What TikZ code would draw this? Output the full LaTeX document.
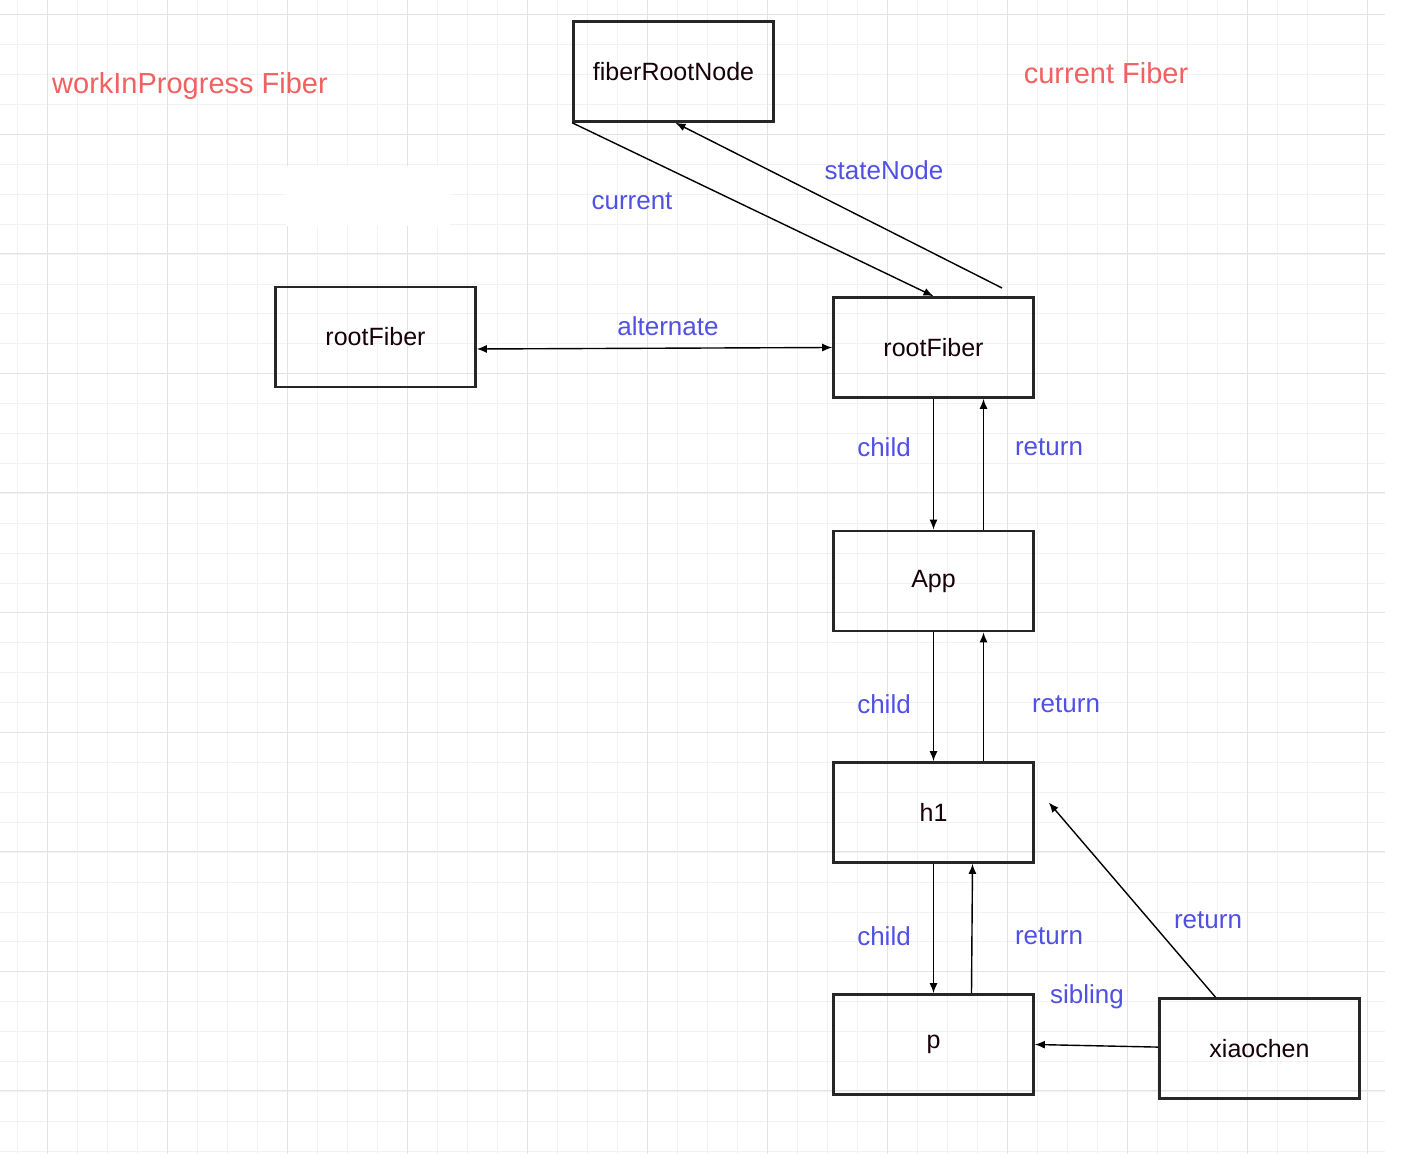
\documentclass[tikz,border=0pt]{standalone}
\usepackage{fontspec}
\usetikzlibrary{arrows.meta}
\setmainfont{Liberation Sans}
\begin{document}
\begin{tikzpicture}[x=0.5pt,y=-0.5pt,
  box/.style={draw=black!85,line width=1.3pt,minimum width=100pt,minimum height=50pt,inner sep=0pt,font=\fontsize{12.5}{14}\selectfont,text=black!80!purple!60!black},
  lbl/.style={text=blue!65!white!90!black,font=\fontsize{13}{15}\selectfont,inner sep=0pt},
  red/.style={text=red!60!white!95!black,font=\fontsize{14.5}{16}\selectfont,inner sep=0pt},
  arr/.style={-{Latex[length=5pt,width=4pt]},line width=0.7pt}]
\useasboundingbox (0,0) rectangle (1414,1154);
\fill[white] (0,0) rectangle (1414,1154);
\foreach \i in {0,...,46} {\draw[black!5,line width=0.4pt] (47+\i*30-120,0) -- (47+\i*30-120,1154);}
\foreach \i in {0,...,39} {\draw[black!5,line width=0.4pt] (0,15+\i*29.9-30) -- (1385,15+\i*29.9-30);}
\foreach \i in {0,...,11} {\draw[black!11,line width=0.5pt] (47+\i*120,0) -- (47+\i*120,1154);}
\foreach \i in {0,...,9} {\draw[black!11,line width=0.5pt] (0,15+\i*119.5) -- (1385,15+\i*119.5);}
\fill[white] (286,166) rectangle (450,226);
\node[red] (wip) at (190,86) {workInProgress Fiber};
\node[red] (cur) at (1106,73) {current Fiber};
\node[box] (frn) at (673.5,71.5) {fiberRootNode};
\node[box] (rfl) at (375.5,337) {rootFiber};
\node[box] (rfr) at (933.5,347.5) {rootFiber};
\node[box] (app) at (933.5,581) {App};
\node[box] (h1) at (933.5,812.5) {h1};
\node[box] (p) at (933.5,1044.5) {p};
\node[box] (xc) at (1259.5,1048.5) {xiaochen};
\draw[arr] (frn.south west) -- (rfr.north);
\coordinate (sn) at (1002,288);
\draw[arr] (sn) -- ([xshift=1pt]frn.south);
\draw[{Latex[length=5pt,width=4pt]}-{Latex[length=5pt,width=4pt]},line width=0.7pt] ([yshift=-6pt]rfl.east) -- (rfr.west);
\foreach \a/\b in {rfr/app,app/h1,h1/p} {
  \draw[arr] (\a.south) -- (\b.north);
}
\draw[arr] ([xshift=25pt]app.north) -- ([xshift=25pt]rfr.south);
\draw[arr] ([xshift=25pt]h1.north) -- ([xshift=25pt]app.south);
\draw[arr] ([xshift=19pt]p.north) -- ([xshift=19.5pt]h1.south);
\draw[arr] ([yshift=0.7pt]xc.west) -- (p.east);
\draw[arr] ([xshift=-22pt]xc.north) -- ([xshift=7pt,yshift=5pt]h1.east);
\node[lbl] (l1) at (632,201) {current};
\node[lbl] (l2) at (884,170) {stateNode};
\node[lbl] (l3) at (668,326) {alternate};
\node[lbl] (l4) at (884,447) {child};
\node[lbl] (l5) at (1049,447) {return};
\node[lbl] (l6) at (884,704) {child};
\node[lbl] (l7) at (1066,704) {return};
\node[lbl] (l8) at (884,936) {child};
\node[lbl] (l9) at (1049,936) {return};
\node[lbl] (l10) at (1087,997) {sibling};
\node[lbl] (l11) at (1208,920) {return};
\end{tikzpicture}
\end{document}
